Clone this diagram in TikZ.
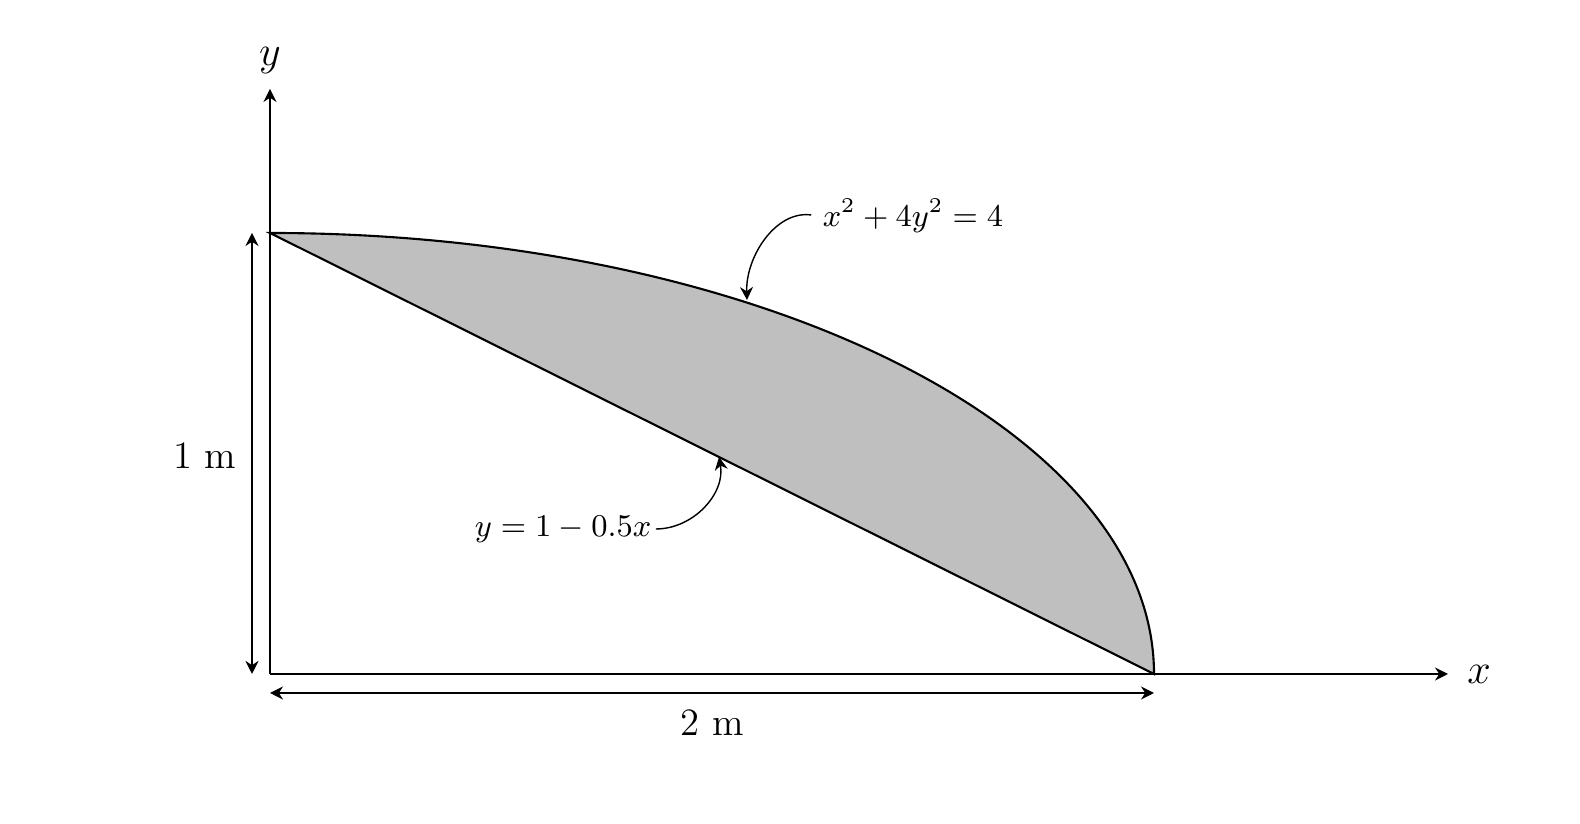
\documentclass[tikz,border=0pt]{standalone}
\usepackage{amsmath,amssymb}
\usepackage{tikz}
\usetikzlibrary{arrows.meta}

\begin{document}
\begin{tikzpicture}[line width=0.6pt, >={Stealth[length=1.3mm,width=1.3mm]}]
    \useasboundingbox (-2.70,-1.50) rectangle (13.10,6.74);
    \coordinate (P0) at (0,0);
    \coordinate (P1) at (0,4.41);
    \coordinate (P2) at (8.84,0);
    \filldraw[fill=black!25] (P1) arc[start angle=90, end angle=0, x radius=8.84, y radius=4.41] -- cycle;
    \draw[->] (P0) -- (11.78,0) coordinate (XE);
    \node[font=\large] (xlab) at (12.09,0) {$x$};
    \draw[->] (P0) -- (0,5.85) coordinate (YE);
    \node[font=\large] (ylab) at (0,6.13) {$y$};
    \draw[<->] (-0.18,0) coordinate (H0) -- (-0.18,4.41) coordinate (H1);
    \node[font=\fontsize{11}{13}\selectfont] (hlab) at (-0.65,2.18) {1 m};
    \draw[<->] (0,-0.19) coordinate (W0) -- (8.84,-0.19) coordinate (W1);
    \node[font=\fontsize{11}{13}\selectfont] (wlab) at (4.42,-0.49) {2 m};
    \coordinate (E1) at (4.77,3.74);
    \coordinate (L1) at (4.49,2.17);
    \node[font=\fontsize{8.6}{10}\selectfont, inner sep=1pt] (elab) at (6.43,4.58) {$x^2+4y^2=4$};
    \node[font=\fontsize{8.6}{10}\selectfont, inner sep=1pt] (llab) at (2.93,1.45) {$y=1-0.5x$};
    \draw[->, line width=0.4pt, shorten <=2pt] (elab.west) to[out=172, in=92] (E1);
    \draw[->, line width=0.4pt] (llab.east) to[out=0, in=-80] (L1);
\end{tikzpicture}
\end{document}
